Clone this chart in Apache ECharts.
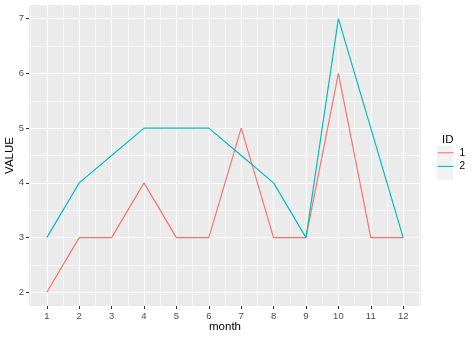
<!DOCTYPE html>
<html>
<head>
<meta charset="utf-8">
<script src="https://cdn.jsdelivr.net/npm/echarts@6/dist/echarts.min.js"></script>
<style>html,body{margin:0;padding:0;background:#fff}#c{width:474px;height:338px}</style>
</head>
<body>
<div id="c"></div>
<script>
var months = [1,2,3,4,5,6,7,8,9,10,11,12];
var id1 = [2,3,3,4,3,3,5,3,3,6,3,3];
var id2 = [3,4,4.5,5,5,5,4.5,4,3,7,5,3];
var xTicks = [1,2,3,4,5,6,7,8,9,10,11,12];
var xMinor = [0.5,1.5,2.5,3.5,4.5,5.5,6.5,7.5,8.5,9.5,10.5,11.5,12.5];
var yTicks = [2,3,4,5,6,7];
var yMinor = [2.5,3.5,4.5,5.5,6.5];

var FONT = '"Liberation Sans", Arial, sans-serif';
var chart = echarts.init(document.getElementById('c'));
function pairs(a, b){ return a.map(function(v,i){ return [v, b[i]]; }); }
var gridMarks = []
  .concat(xMinor.map(function(v){ return {xAxis: v, lineStyle:{color:'#fff', width:0.55, type:'solid'}}; }))
  .concat(yMinor.map(function(v){ return {yAxis: v, lineStyle:{color:'#fff', width:0.55, type:'solid'}}; }))
  .concat(xTicks.map(function(v){ return {xAxis: v, lineStyle:{color:'#fff', width:1.1, type:'solid'}}; }))
  .concat(yTicks.map(function(v){ return {yAxis: v, lineStyle:{color:'#fff', width:1.1, type:'solid'}}; }));

chart.setOption({
  animation: false,
  textStyle: {fontFamily: FONT},
  title: {text: 'ID', left: 437, top: 129, textStyle: {fontSize: 11.5, fontWeight: 'normal', color: '#000', fontFamily: FONT}},
  grid: {left: 29, right: 53, top: 5, bottom: 32, backgroundColor: '#EBEBEB', show: true, borderWidth: 0,
         containLabel: false, outerBoundsMode: 'none'},
  xAxis: {
    type: 'value', min: 0.45, max: 12.55,
    name: 'month', nameLocation: 'middle', nameGap: 15, nameMoveOverlap: false,
    nameTextStyle: {fontSize: 11.5, color: '#000', fontFamily: FONT},
    axisLine: {show: false},
    axisTick: {show: true, length: 3, lineStyle: {color: '#333'}, customValues: xTicks},
    axisLabel: {color: '#4D4D4D', fontSize: 9.5, margin: 5, customValues: xTicks, fontFamily: FONT},
    splitLine: {show: false}
  },
  yAxis: {
    type: 'value', min: 1.75, max: 7.25,
    name: 'VALUE', nameLocation: 'middle', nameGap: 13, nameRotate: 90, nameMoveOverlap: false,
    nameTextStyle: {fontSize: 11.5, color: '#000', fontFamily: FONT},
    axisLine: {show: false},
    axisTick: {show: true, length: 3, lineStyle: {color: '#333'}, customValues: yTicks},
    axisLabel: {color: '#4D4D4D', fontSize: 9.5, margin: 5, customValues: yTicks, fontFamily: FONT},
    splitLine: {show: false}
  },
  legend: {
    orient: 'vertical', left: 437, top: 146, itemWidth: 16, itemHeight: 17, itemGap: 0,
    padding: 0, data: ['1','2'],
    itemStyle: {opacity: 0},
    lineStyle: {width: 1.1},
    textStyle: {fontSize: 10, color: '#000', padding: [0,0,0,1], fontFamily: FONT},
    selectedMode: false
  },
  graphic: [{type: 'rect', left: 437, top: 146, shape: {width: 16, height: 34}, style: {fill: '#F2F2F2'}, z: -1, silent: true}],
  series: [
    {type: 'line', data: [], silent: true, z: 0, zlevel: 0,
     markLine: {silent: true, z: 0, symbol: ['none','none'], label: {show: false}, animation: false,
                emphasis: {disabled: true}, data: gridMarks}},
    {name: '1', type: 'line', data: pairs(months, id1), showSymbol: false, symbol: 'none', zlevel: 1,
     lineStyle: {color: '#F8766D', width: 1.2}, itemStyle: {color: '#F8766D'}, z: 3},
    {name: '2', type: 'line', data: pairs(months, id2), showSymbol: false, symbol: 'none', zlevel: 1,
     lineStyle: {color: '#00BFC4', width: 1.2}, itemStyle: {color: '#00BFC4'}, z: 3}
  ]
});
</script>
</body>
</html>
